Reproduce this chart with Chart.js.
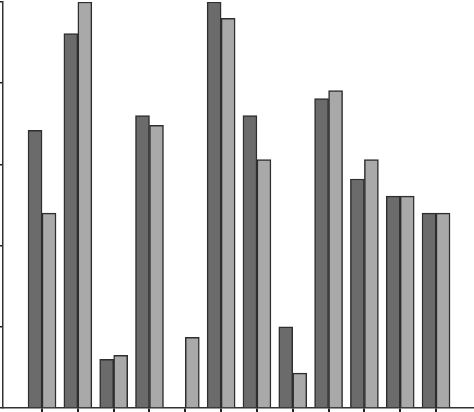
<!DOCTYPE html>
<html><head><meta charset="utf-8">
<script src="https://cdn.jsdelivr.net/npm/chart.js@4"></script>
<style>html,body{margin:0;padding:0;background:#fff}#w{width:474px;height:412px}</style>
</head><body><div id="w"><canvas id="c"></canvas></div>
<script>
const positions = [1,2,3,4,5,6,7,8,9,10,11,12];
const seriesDark = [34.2,46.1,6.0,36.0,0,50,36.0,10.0,38.1,28.2,26.1,24.0];
const seriesLight = [24.0,50,6.5,34.8,8.7,48,30.6,4.3,39.1,30.6,26.1,24.0];
const yTicks = [0,10,20,30,40,50];
const mk = (arr) => positions.map((x,i)=>({x, y: arr[i]}));
new Chart(document.getElementById('c'), {
  type: 'bar',
  data: { datasets: [
    { data: mk(seriesDark), backgroundColor: '#6b6b6b', borderColor: '#2e2e2e', borderWidth: 1.5, barThickness: 14 },
    { data: mk(seriesLight), backgroundColor: '#a9a9a9', borderColor: '#2e2e2e', borderWidth: 1.5, barThickness: 14 }
  ]},
  options: {
    responsive: true, maintainAspectRatio: false, animation: false,
    layout: { padding: { top: 2, right: 0, left: 0, bottom: 0 } },
    plugins: { legend: { display: false }, tooltip: { enabled: false } },
    scales: {
      x: { type: 'linear', min: -0.09, max: 13.06, offset: false,
        afterBuildTicks: (s) => { s.ticks = positions.map(v => ({ value: v })); },
        ticks: { display: false },
        grid: { offset: false, drawOnChartArea: false, drawTicks: true, tickLength: 4, color: '#222', lineWidth: 2 },
        border: { color: '#333', width: 1.5 } },
      y: { min: 0, max: 50,
        afterBuildTicks: (s) => { s.ticks = yTicks.map(v => ({ value: v })); },
        ticks: { display: false },
        grid: { drawOnChartArea: false, drawTicks: true, tickLength: 3, color: '#222', lineWidth: 1.5 },
        border: { color: '#333', width: 1.5 } }
    }
  }
});
</script></body></html>
